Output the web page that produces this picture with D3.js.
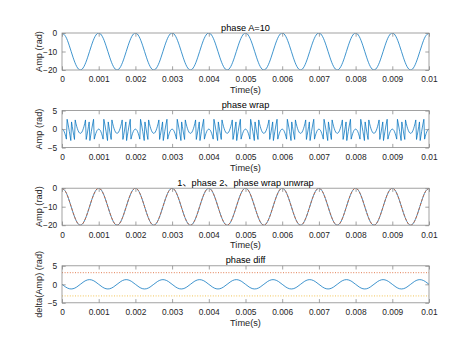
<!DOCTYPE html>
<html><head><meta charset="utf-8">
<script src="https://cdn.jsdelivr.net/npm/d3@7"></script>
<style>body{margin:0;background:#fff}svg{display:block}</style>
</head><body>
<script>
// ---------- data ----------
const xTicks = [0,0.001,0.002,0.003,0.004,0.005,0.006,0.007,0.008,0.009,0.01];
const xTickLabels = ["0","0.001","0.002","0.003","0.004","0.005","0.006","0.007","0.008","0.009","0.01"];
const ampTicks = [0,-10,-20];
const radTicks = [5,0,-5];

// sample rates of the plotted series (Hz)
const phaseFs = 10000;
const wrapFs = 50000;

// phase, A=10 (rad), sampled at phaseFs
const phase = [
0,-1.91,-6.91,-13.09,-18.09,-20,-18.09,-13.09,-6.91,-1.91,
0,-1.91,-6.91,-13.09,-18.09,-20,-18.09,-13.09,-6.91,-1.91,
0,-1.91,-6.91,-13.09,-18.09,-20,-18.09,-13.09,-6.91,-1.91,
0,-1.91,-6.91,-13.09,-18.09,-20,-18.09,-13.09,-6.91,-1.91,
0,-1.91,-6.91,-13.09,-18.09,-20,-18.09,-13.09,-6.91,-1.91,
0,-1.91,-6.91,-13.09,-18.09,-20,-18.09,-13.09,-6.91,-1.91,
0,-1.91,-6.91,-13.09,-18.09,-20,-18.09,-13.09,-6.91,-1.91,
0,-1.91,-6.91,-13.09,-18.09,-20,-18.09,-13.09,-6.91,-1.91,
0,-1.91,-6.91,-13.09,-18.09,-20,-18.09,-13.09,-6.91,-1.91,
0,-1.91,-6.91,-13.09,-18.09,-20,-18.09,-13.09,-6.91,-1.91,
0];

// unwrapped phase (identical to phase)
const unwrapPhase = [
0,-1.91,-6.91,-13.09,-18.09,-20,-18.09,-13.09,-6.91,-1.91,
0,-1.91,-6.91,-13.09,-18.09,-20,-18.09,-13.09,-6.91,-1.91,
0,-1.91,-6.91,-13.09,-18.09,-20,-18.09,-13.09,-6.91,-1.91,
0,-1.91,-6.91,-13.09,-18.09,-20,-18.09,-13.09,-6.91,-1.91,
0,-1.91,-6.91,-13.09,-18.09,-20,-18.09,-13.09,-6.91,-1.91,
0,-1.91,-6.91,-13.09,-18.09,-20,-18.09,-13.09,-6.91,-1.91,
0,-1.91,-6.91,-13.09,-18.09,-20,-18.09,-13.09,-6.91,-1.91,
0,-1.91,-6.91,-13.09,-18.09,-20,-18.09,-13.09,-6.91,-1.91,
0,-1.91,-6.91,-13.09,-18.09,-20,-18.09,-13.09,-6.91,-1.91,
0,-1.91,-6.91,-13.09,-18.09,-20,-18.09,-13.09,-6.91,-1.91,
0];

// wrapped phase, sampled at wrapFs
const wrapPhase = [
0,-0.08,-0.31,-0.70,-1.24,-1.91,-2.71,2.66,1.64,0.54,-0.63,-1.84,-3.09,1.94,0.69,-0.52,-1.69,-2.79,2.48,1.56,0.76,0.09,-0.45,-0.84,-1.07,
-1.15,-1.07,-0.84,-0.45,0.09,0.76,1.56,2.48,-2.79,-1.69,-0.52,0.69,1.94,-3.09,-1.84,-0.63,0.54,1.64,2.66,-2.71,-1.91,-1.24,-0.70,-0.31,-0.08,
0,-0.08,-0.31,-0.70,-1.24,-1.91,-2.71,2.66,1.64,0.54,-0.63,-1.84,-3.09,1.94,0.69,-0.52,-1.69,-2.79,2.48,1.56,0.76,0.09,-0.45,-0.84,-1.07,
-1.15,-1.07,-0.84,-0.45,0.09,0.76,1.56,2.48,-2.79,-1.69,-0.52,0.69,1.94,-3.09,-1.84,-0.63,0.54,1.64,2.66,-2.71,-1.91,-1.24,-0.70,-0.31,-0.08,
0,-0.08,-0.31,-0.70,-1.24,-1.91,-2.71,2.66,1.64,0.54,-0.63,-1.84,-3.09,1.94,0.69,-0.52,-1.69,-2.79,2.48,1.56,0.76,0.09,-0.45,-0.84,-1.07,
-1.15,-1.07,-0.84,-0.45,0.09,0.76,1.56,2.48,-2.79,-1.69,-0.52,0.69,1.94,-3.09,-1.84,-0.63,0.54,1.64,2.66,-2.71,-1.91,-1.24,-0.70,-0.31,-0.08,
0,-0.08,-0.31,-0.70,-1.24,-1.91,-2.71,2.66,1.64,0.54,-0.63,-1.84,-3.09,1.94,0.69,-0.52,-1.69,-2.79,2.48,1.56,0.76,0.09,-0.45,-0.84,-1.07,
-1.15,-1.07,-0.84,-0.45,0.09,0.76,1.56,2.48,-2.79,-1.69,-0.52,0.69,1.94,-3.09,-1.84,-0.63,0.54,1.64,2.66,-2.71,-1.91,-1.24,-0.70,-0.31,-0.08,
0,-0.08,-0.31,-0.70,-1.24,-1.91,-2.71,2.66,1.64,0.54,-0.63,-1.84,-3.09,1.94,0.69,-0.52,-1.69,-2.79,2.48,1.56,0.76,0.09,-0.45,-0.84,-1.07,
-1.15,-1.07,-0.84,-0.45,0.09,0.76,1.56,2.48,-2.79,-1.69,-0.52,0.69,1.94,-3.09,-1.84,-0.63,0.54,1.64,2.66,-2.71,-1.91,-1.24,-0.70,-0.31,-0.08,
0,-0.08,-0.31,-0.70,-1.24,-1.91,-2.71,2.66,1.64,0.54,-0.63,-1.84,-3.09,1.94,0.69,-0.52,-1.69,-2.79,2.48,1.56,0.76,0.09,-0.45,-0.84,-1.07,
-1.15,-1.07,-0.84,-0.45,0.09,0.76,1.56,2.48,-2.79,-1.69,-0.52,0.69,1.94,-3.09,-1.84,-0.63,0.54,1.64,2.66,-2.71,-1.91,-1.24,-0.70,-0.31,-0.08,
0,-0.08,-0.31,-0.70,-1.24,-1.91,-2.71,2.66,1.64,0.54,-0.63,-1.84,-3.09,1.94,0.69,-0.52,-1.69,-2.79,2.48,1.56,0.76,0.09,-0.45,-0.84,-1.07,
-1.15,-1.07,-0.84,-0.45,0.09,0.76,1.56,2.48,-2.79,-1.69,-0.52,0.69,1.94,-3.09,-1.84,-0.63,0.54,1.64,2.66,-2.71,-1.91,-1.24,-0.70,-0.31,-0.08,
0,-0.08,-0.31,-0.70,-1.24,-1.91,-2.71,2.66,1.64,0.54,-0.63,-1.84,-3.09,1.94,0.69,-0.52,-1.69,-2.79,2.48,1.56,0.76,0.09,-0.45,-0.84,-1.07,
-1.15,-1.07,-0.84,-0.45,0.09,0.76,1.56,2.48,-2.79,-1.69,-0.52,0.69,1.94,-3.09,-1.84,-0.63,0.54,1.64,2.66,-2.71,-1.91,-1.24,-0.70,-0.31,-0.08,
0,-0.08,-0.31,-0.70,-1.24,-1.91,-2.71,2.66,1.64,0.54,-0.63,-1.84,-3.09,1.94,0.69,-0.52,-1.69,-2.79,2.48,1.56,0.76,0.09,-0.45,-0.84,-1.07,
-1.15,-1.07,-0.84,-0.45,0.09,0.76,1.56,2.48,-2.79,-1.69,-0.52,0.69,1.94,-3.09,-1.84,-0.63,0.54,1.64,2.66,-2.71,-1.91,-1.24,-0.70,-0.31,-0.08,
0,-0.08,-0.31,-0.70,-1.24,-1.91,-2.71,2.66,1.64,0.54,-0.63,-1.84,-3.09,1.94,0.69,-0.52,-1.69,-2.79,2.48,1.56,0.76,0.09,-0.45,-0.84,-1.07,
-1.15,-1.07,-0.84,-0.45,0.09,0.76,1.56,2.48,-2.79,-1.69,-0.52,0.69,1.94,-3.09,-1.84,-0.63,0.54,1.64,2.66,-2.71,-1.91,-1.24,-0.70,-0.31,-0.08,
0];

// phase difference (rad), sampled at phaseFs
const diffPhase = [
0,-0.74,-1.2,-1.2,-0.74,0,0.74,1.2,1.2,0.74,
0,-0.74,-1.2,-1.2,-0.74,0,0.74,1.2,1.2,0.74,
0,-0.74,-1.2,-1.2,-0.74,0,0.74,1.2,1.2,0.74,
0,-0.74,-1.2,-1.2,-0.74,0,0.74,1.2,1.2,0.74,
0,-0.74,-1.2,-1.2,-0.74,0,0.74,1.2,1.2,0.74,
0,-0.74,-1.2,-1.2,-0.74,0,0.74,1.2,1.2,0.74,
0,-0.74,-1.2,-1.2,-0.74,0,0.74,1.2,1.2,0.74,
0,-0.74,-1.2,-1.2,-0.74,0,0.74,1.2,1.2,0.74,
0,-0.74,-1.2,-1.2,-0.74,0,0.74,1.2,1.2,0.74,
0,-0.74,-1.2,-1.2,-0.74,0,0.74,1.2,1.2,0.74,
0];

// threshold lines (+pi / -pi)
const limitTimes = [0, 0.01];
const upperLimit = [3.1416, 3.1416];
const lowerLimit = [-3.1416, -3.1416];

const titles = ["phase A=10", "phase wrap", "1、phase 2、phase wrap unwrap", "phase diff"];
const yLabels = ["Amp (rad)", "Amp (rad)", "Amp (rad)", "delta(Amp) (rad)"];
const xLabel = "Time(s)";

// ---------- drawing ----------
const W = 474, H = 355;
const FONT = "'Liberation Sans', Arial, 'Noto Sans CJK SC', sans-serif";
const blue = "#0072BD", orange = "#D95319", yellow = "#EDB120";
const boxColor = "#8a8a8a", textColor = "#262626";
const left = 62, right = 429;
const tops = [33, 110.6, 188.2, 265.8];
const ph = 37;

const svg = d3.select("body").append("svg").attr("width", W).attr("height", H)
  .style("font-family", FONT);

const x = d3.scaleLinear().domain([0, 0.01]).range([left, right]);

function toPts(vals, fs) { return vals.map((v, i) => [i / fs, v]); }

const panels = [
  { yDom: [-20, 0], yT: ampTicks, series: [
      { pts: toPts(phase, phaseFs), color: blue, curve: d3.curveNatural } ] },
  { yDom: [-5, 5], yT: radTicks, series: [
      { pts: toPts(wrapPhase, wrapFs), color: blue, curve: d3.curveLinear } ] },
  { yDom: [-20, 0], yT: ampTicks, series: [
      { pts: toPts(phase, phaseFs), color: blue, curve: d3.curveNatural },
      { pts: toPts(unwrapPhase, phaseFs), color: orange, curve: d3.curveNatural, dash: "3,1.5" } ] },
  { yDom: [-5, 5], yT: radTicks, series: [
      { pts: toPts(diffPhase, phaseFs), color: blue, curve: d3.curveNatural },
      { pts: limitTimes.map((t, i) => [t, upperLimit[i]]), color: orange, curve: d3.curveLinear, dash: "1,1.6" },
      { pts: limitTimes.map((t, i) => [t, lowerLimit[i]]), color: yellow, curve: d3.curveLinear, dash: "1,1.6" } ] }
];

panels.forEach((p, k) => {
  const top = tops[k], bottom = top + ph;
  const y = d3.scaleLinear().domain(p.yDom).range([bottom, top]);
  const g = svg.append("g");

  const cid = "clip" + k;
  svg.append("clipPath").attr("id", cid).append("rect")
    .attr("x", left).attr("y", top).attr("width", right - left).attr("height", ph);

  const lg = g.append("g").attr("clip-path", `url(#${cid})`);
  p.series.forEach(s => {
    const line = d3.line().x(d => x(d[0])).y(d => y(d[1])).curve(s.curve);
    lg.append("path").attr("d", line(s.pts))
      .attr("fill", "none").attr("stroke", s.color).attr("stroke-width", 0.75)
      .attr("stroke-dasharray", s.dash || null);
  });

  const styleAxis = a => {
    a.select(".domain").remove();
    a.selectAll(".tick line").attr("stroke", boxColor).attr("stroke-width", 0.8);
    a.selectAll("text").attr("fill", textColor).style("font-size", "8.4px").style("font-family", FONT);
  };

  g.append("g").attr("transform", `translate(0,${bottom})`)
    .call(d3.axisBottom(x).tickValues(xTicks).tickFormat((d, i) => xTickLabels[i]).tickSize(-3.7).tickPadding(6.5))
    .call(styleAxis);
  g.append("g").attr("transform", `translate(0,${top})`)
    .call(d3.axisTop(x).tickValues(xTicks).tickFormat("").tickSize(-3.7))
    .call(styleAxis);
  g.append("g").attr("transform", `translate(${left},0)`)
    .call(d3.axisLeft(y).tickValues(p.yT).tickFormat(d3.format("d")).tickSize(-3.7).tickPadding(4.8))
    .call(styleAxis);
  g.append("g").attr("transform", `translate(${right},0)`)
    .call(d3.axisRight(y).tickValues(p.yT).tickFormat("").tickSize(-3.7))
    .call(styleAxis);

  g.append("rect").attr("x", left).attr("y", top).attr("width", right - left).attr("height", ph)
    .attr("fill", "none").attr("stroke", boxColor).attr("stroke-width", 0.8);

  g.append("text").attr("x", (left + right) / 2).attr("y", top - 5.5)
    .attr("text-anchor", "middle").attr("dominant-baseline", "central")
    .attr("fill", "#000").style("font-size", "9.2px").text(titles[k]);

  g.append("text").attr("x", (left + right) / 2).attr("y", bottom + 20)
    .attr("text-anchor", "middle").attr("dominant-baseline", "central")
    .attr("fill", textColor).style("font-size", "9.2px").text(xLabel);

  g.append("text").attr("transform", `translate(39,${(top + bottom) / 2}) rotate(-90)`)
    .attr("text-anchor", "middle").attr("dominant-baseline", "central")
    .attr("fill", textColor).style("font-size", "9.2px").text(yLabels[k]);
});
</script>
</body></html>
